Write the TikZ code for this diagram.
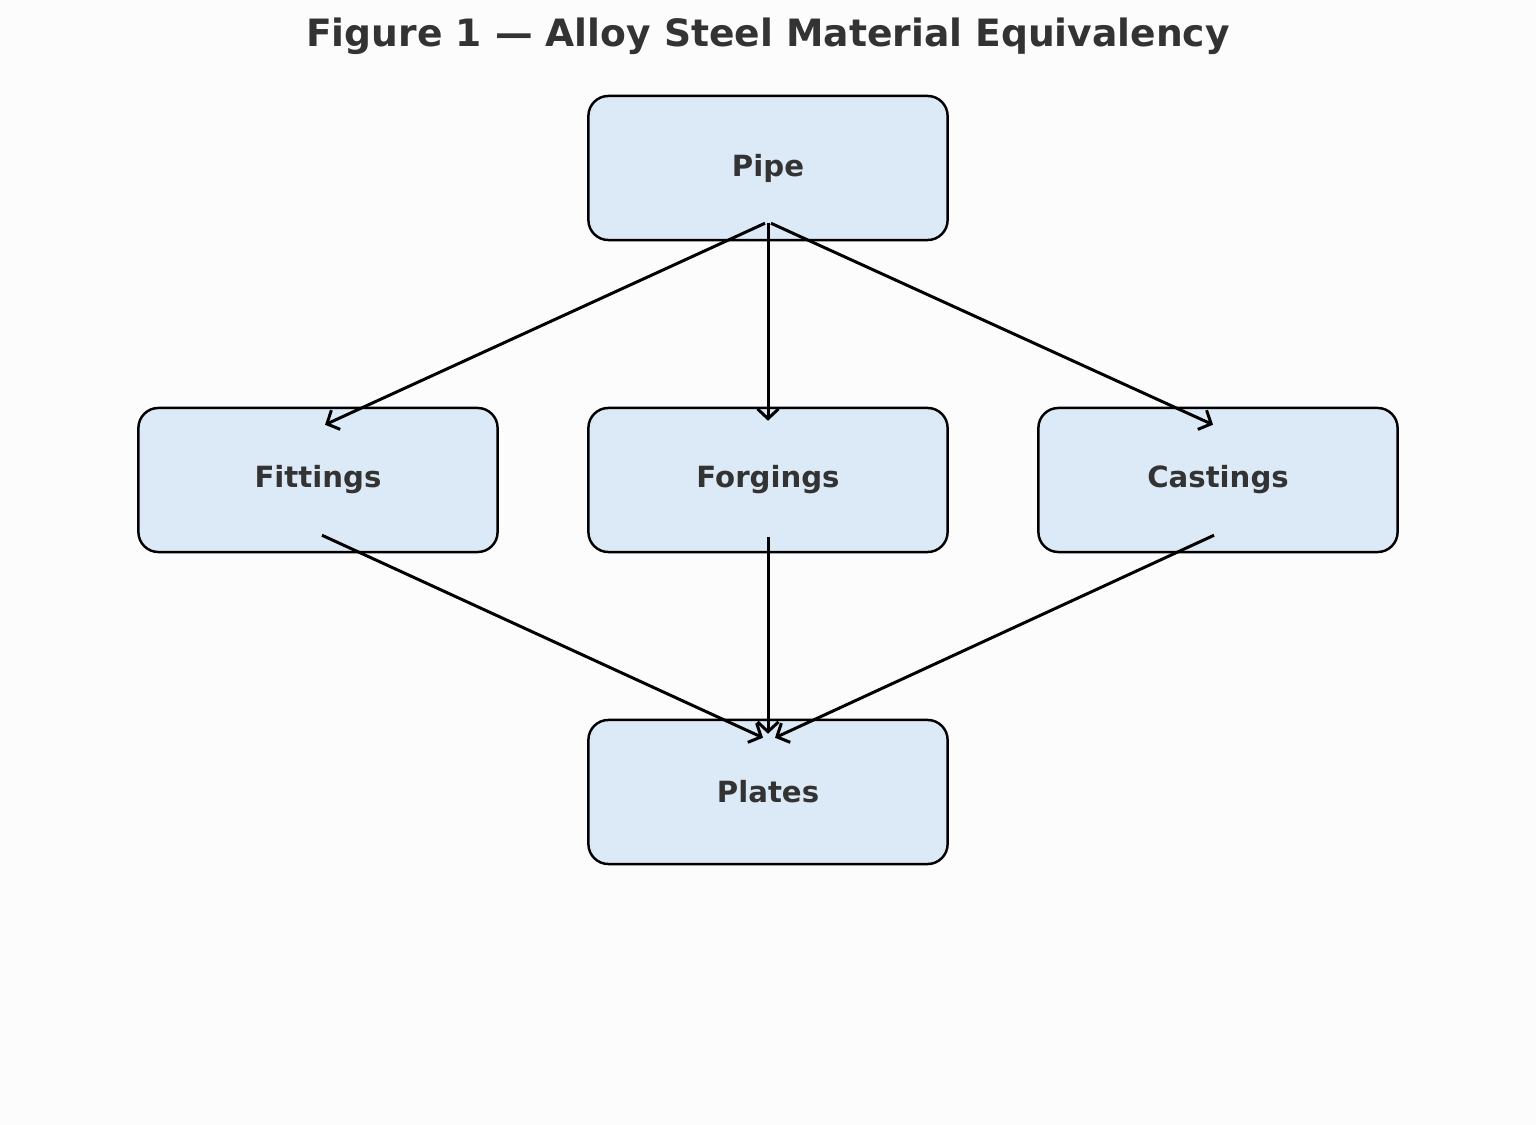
\documentclass[tikz,border=0pt]{standalone}
\usepackage{fontspec}
\setmainfont{DejaVu Sans}
\usetikzlibrary{arrows.meta,positioning}
\definecolor{boxfill}{HTML}{DCE9F6}
\definecolor{txt}{HTML}{333333}
\begin{document}
\begin{tikzpicture}[x=0.01cm,y=-0.01cm,>={Straight Barb[length=2.8pt,width=6pt,line width=0.85pt]},font=\bfseries]
\tikzstyle{b}=[draw,line width=0.7pt,rounded corners=0.2cm,fill=boxfill,minimum width=3.59cm,minimum height=1.44cm,text=txt,font=\fontsize{8.3}{10}\selectfont\bfseries]
\tikzstyle{a}=[->,line width=0.85pt]
\fill[white!99!black] (0,0) rectangle (1536,1125);
\useasboundingbox (0,0) rectangle (1536,1125);
\node[text=txt,font=\fontsize{10.7}{13}\selectfont\bfseries] (title) at (768,36) {Figure 1 — Alloy Steel Material Equivalency};
\node[b] (pipe) at (768,168) {Pipe};
\node[b] (fit) at (318,480) {Fittings};
\node[b] (forg) at (768,480) {Forgings};
\node[b] (cast) at (1218,480) {Castings};
\node[b] (plate) at (768,792) {Plates};
% first row of arrows
\draw[a] ([xshift=-0.03cm,yshift=0.18cm]pipe.south) -- ([xshift=0.07cm,yshift=-0.18cm]fit.north);
\draw[a] ([yshift=0.18cm]pipe.south) -- ([yshift=-0.14cm]forg.north);
\draw[a] ([xshift=0.03cm,yshift=0.18cm]pipe.south) -- ([xshift=-0.05cm,yshift=-0.18cm]cast.north);
% second row
\draw[a] ([xshift=0.04cm,yshift=0.18cm]fit.south) -- ([xshift=-0.05cm,yshift=-0.19cm]plate.north);
\draw[a] ([yshift=0.16cm]forg.south) -- ([yshift=-0.15cm]plate.north);
\draw[a] ([xshift=-0.04cm,yshift=0.18cm]cast.south) -- ([xshift=0.07cm,yshift=-0.19cm]plate.north);
\end{tikzpicture}
\end{document}
